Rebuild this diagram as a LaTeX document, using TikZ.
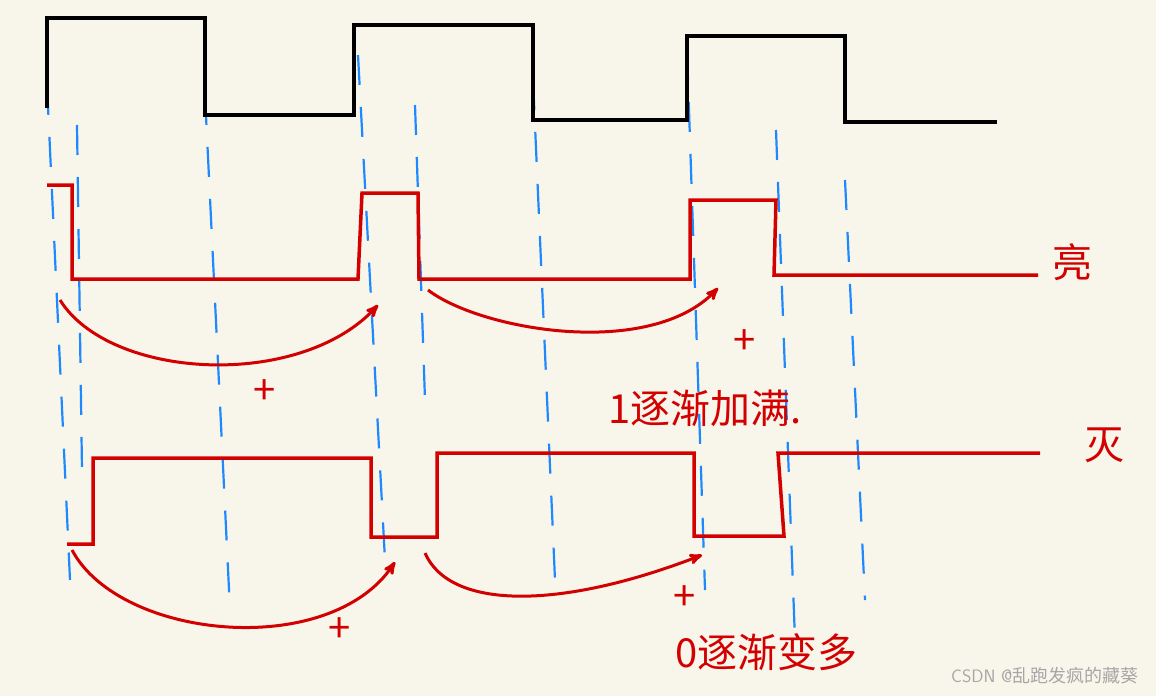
\documentclass[tikz,border=0pt]{standalone}
\usepackage{fontspec}
\newfontfamily\cjk{Noto Sans CJK SC}
\usetikzlibrary{arrows}
\definecolor{paper}{HTML}{F8F6EA}
\definecolor{pen}{HTML}{D20000}
\definecolor{guide}{HTML}{1E88FF}
\tikzset{
x=1pt, y=-1pt,
clock/.style={line width=3.5pt, black}, % the clock wave
wave/.style={line width=3.5pt, pen}, % the red outputs
grid/.style={line width=2.2pt, guide, dash pattern=on 30pt off 22pt}, % blue guides
sweep/.style={line width=3pt, pen, ->, >=stealth'}, % curved arrows
note/.style={pen, font=\cjk\fontsize{40}{40}\selectfont}, % hand notes
}
\begin{document}
\begin{tikzpicture}
    \fill[paper] (0,0) rectangle (1156,696);
    \useasboundingbox (0,0) rectangle (1156,696);
    % blue guides
    \foreach \xa/\ya/\xb/\yb in {47/85/70/580, 77/125/82/470, 205/95/230/610, 358/55/385/560, 415/105/425/400, 533/80/555/580, 687/50/705/590, 776/130/795/640, 845/180/865/600}
        \draw[grid] (\xa,\ya) -- (\xb,\yb);
    % clock
    \draw[clock] (47,108) -- (47,18) -- (205,18) -- (205,115) -- (354,115) -- (354,25) -- (533,25) -- (533,120) -- (687,120) -- (687,36) -- (845,36) -- (845,122) -- (997,122);
    % outputs
    \draw[wave] (47,185) -- (72,185) -- (72,279) -- (358,279) -- (362,193) -- (418,193) -- (419,279) -- (690,279) -- (690,200) -- (776,200) -- (774,275) -- (1038,275);
    \draw[wave] (67,544) -- (93,544) -- (93,458) -- (371,458) -- (371,537) -- (437,537) -- (437,453) -- (694,453) -- (694,536) -- (784,536) -- (778,453) -- (1040,453);
    \node[note] (on) at (1072,262) {亮};
    \node[note] (off) at (1104,445) {灭};
    % sweeps
    \coordinate (a1) at (60,300); \coordinate (b1) at (378,305);
    \coordinate (a2) at (428,290); \coordinate (b2) at (718,288);
    \coordinate (a3) at (72,550); \coordinate (b3) at (395,562);
    \coordinate (a4) at (425,553); \coordinate (b4) at (702,555);
    \draw[sweep] (a1) .. controls (110,380) and (300,390) .. (b1);
    \draw[sweep] (a2) .. controls (480,330) and (650,360) .. (b2);
    \draw[sweep] (a3) .. controls (120,640) and (330,660) .. (b3);
    \draw[sweep] (a4) .. controls (450,610) and (560,610) .. (b4);
    \node[note] (p1) at (265,392) {+};
    \node[note] (p2) at (745,342) {+};
    \node[note] (p3) at (340,630) {+};
    \node[note] (p4) at (685,598) {+};
    \node[note, anchor=west] (fill) at (605,408) {1逐渐加满.};
    \node[note, anchor=west] (grow) at (672,652) {0逐渐变多};
    \node[gray!70, font=\sffamily\fontsize{18}{18}\selectfont, anchor=east] (mark) at (1142,676) {CSDN @\cjk 乱跑发疯的藏葵};
\end{tikzpicture}
\end{document}
